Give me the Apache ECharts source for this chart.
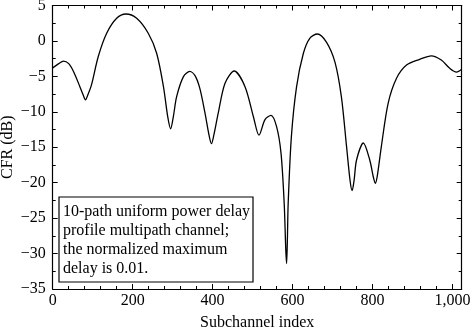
<!DOCTYPE html>
<html>
<head>
<meta charset="utf-8">
<script src="https://cdn.jsdelivr.net/npm/echarts@6/dist/echarts.min.js"></script>
<style>html,body{margin:0;padding:0;background:#fff}#c{width:474px;height:329px}</style>
</head>
<body>
<div id="c"></div>
<script>
const subIdx = [0, 15, 27, 40, 52, 68, 76, 82, 88, 97, 114, 135, 160, 183, 210, 239, 260, 277, 288, 295, 302, 310, 327, 343, 356, 368, 381, 391, 397, 403, 414, 431, 454, 481, 502, 516, 531, 546, 560, 571, 579, 583, 585, 587, 589, 597, 610, 627, 643, 662, 685, 706, 722, 735, 744, 749, 754, 760, 777, 793, 802, 807, 812, 822, 839, 860, 885, 918, 947, 972, 993, 1010, 1023];
const cfrDb = [-3.8, -3.2, -2.85, -3.2, -4.3, -6.45, -7.6, -8.3, -7.6, -6.2, -2.2, 1.08, 3.19, 3.8, 3.19, 1.08, -1.74, -6.45, -10.8, -12.4, -10.6, -7.86, -5.04, -4.3, -4.9, -6.7, -10.2, -13.3, -14.5, -13.3, -10.2, -5.97, -4.24, -6.45, -10.7, -13.3, -11.1, -10.5, -12.1, -15.8, -22.9, -29.5, -31.4, -28, -22.9, -13.5, -6.45, -1.74, 0.37, 0.98, -0.2, -3.0, -7.86, -14.9, -19.8, -21.1, -19.6, -16.8, -14.4, -16.8, -19.2, -20.1, -19.0, -14.9, -8.8, -5.27, -3.4, -2.6, -2.1, -2.7, -3.86, -4.4, -4.0];
const xTicks = [0, 200, 400, 600, 800, 1000];
const yTicks = [5, 0, -5, -10, -15, -20, -25, -30, -35];
const noteLines = ["10-path uniform power delay", "profile multipath channel;", "the normalized maximum", "delay is 0.01."];
const xName = "Subchannel index";
const yName = "CFR (dB)";

const FONT = "Liberation Serif";
const chart = echarts.init(document.getElementById('c'));
const axisLine = {show: true, onZero: false, lineStyle: {color: '#000', width: 1.2}};
const tickX = {show: true, inside: true, length: 5, lineStyle: {color: '#000', width: 1}};
const minorTick = {show: true, splitNumber: 5, length: 3, lineStyle: {color: '#000', width: 1}};
const minorTickY = {show: true, splitNumber: 2, length: 3, lineStyle: {color: '#000', width: 1}};
const fmtNum = v => {
  let s = Math.abs(v) >= 1000 ? Math.abs(v).toLocaleString('en-US') : String(Math.abs(v));
  return (v < 0 ? '\u2212' : '') + s;
};
chart.setOption({
  animation: false,
  backgroundColor: '#fff',
  grid: {left: 52.7, right: 12.3, top: 5.5, bottom: 40, containLabel: false, outerBoundsMode: 'none'},
  xAxis: [{
    type: 'value', min: 0, max: 1023, interval: 200,
    name: xName, nameLocation: 'middle', nameGap: 26, nameMoveOverlap: false,
    nameTextStyle: {fontFamily: FONT, fontSize: 16, color: '#000'},
    axisLine: axisLine, axisTick: tickX, minorTick: minorTick,
    splitLine: {show: false},
    axisLabel: {fontFamily: FONT, fontSize: 16, color: '#000', margin: 4,
      formatter: v => xTicks.includes(v) ? fmtNum(v) : ''}
  }, {
    type: 'value', position: 'top', min: 0, max: 1023, interval: 200,
    axisLine: axisLine, axisTick: tickX, minorTick: minorTick,
    splitLine: {show: false}, axisLabel: {show: false}
  }],
  yAxis: [{
    type: 'value', min: -35, max: 5, interval: 5,
    name: yName, nameLocation: 'middle', nameGap: 37, nameRotate: 90, nameMoveOverlap: false,
    nameTextStyle: {fontFamily: FONT, fontSize: 16, color: '#000'},
    axisLine: axisLine, axisTick: tickX, minorTick: minorTickY,
    splitLine: {show: false},
    axisLabel: {fontFamily: FONT, fontSize: 16, color: '#000', margin: 7,
      formatter: v => yTicks.includes(v) ? fmtNum(v) : ''}
  }, {
    type: 'value', position: 'right', min: -35, max: 5, interval: 5,
    axisLine: axisLine, axisTick: tickX, minorTick: minorTickY,
    splitLine: {show: false}, axisLabel: {show: false}
  }],
  series: [{
    type: 'line', xAxisIndex: 0, yAxisIndex: 0,
    data: subIdx.map((x, i) => [x, cfrDb[i]]),
    showSymbol: false, smooth: 0.3,
    lineStyle: {color: '#000', width: 1.3}
  }],
  graphic: [{
    type: 'rect', shape: {x: 59, y: 197, width: 194, height: 85},
    style: {fill: '#fff', stroke: '#000', lineWidth: 1.2}, z: 10
  }, {
    type: 'text', x: 63, y: 202, z: 11,
    style: {text: noteLines.join('\n'), fontFamily: FONT, fontSize: 16, lineHeight: 19, fill: '#000'}
  }]
});
</script>
</body>
</html>
